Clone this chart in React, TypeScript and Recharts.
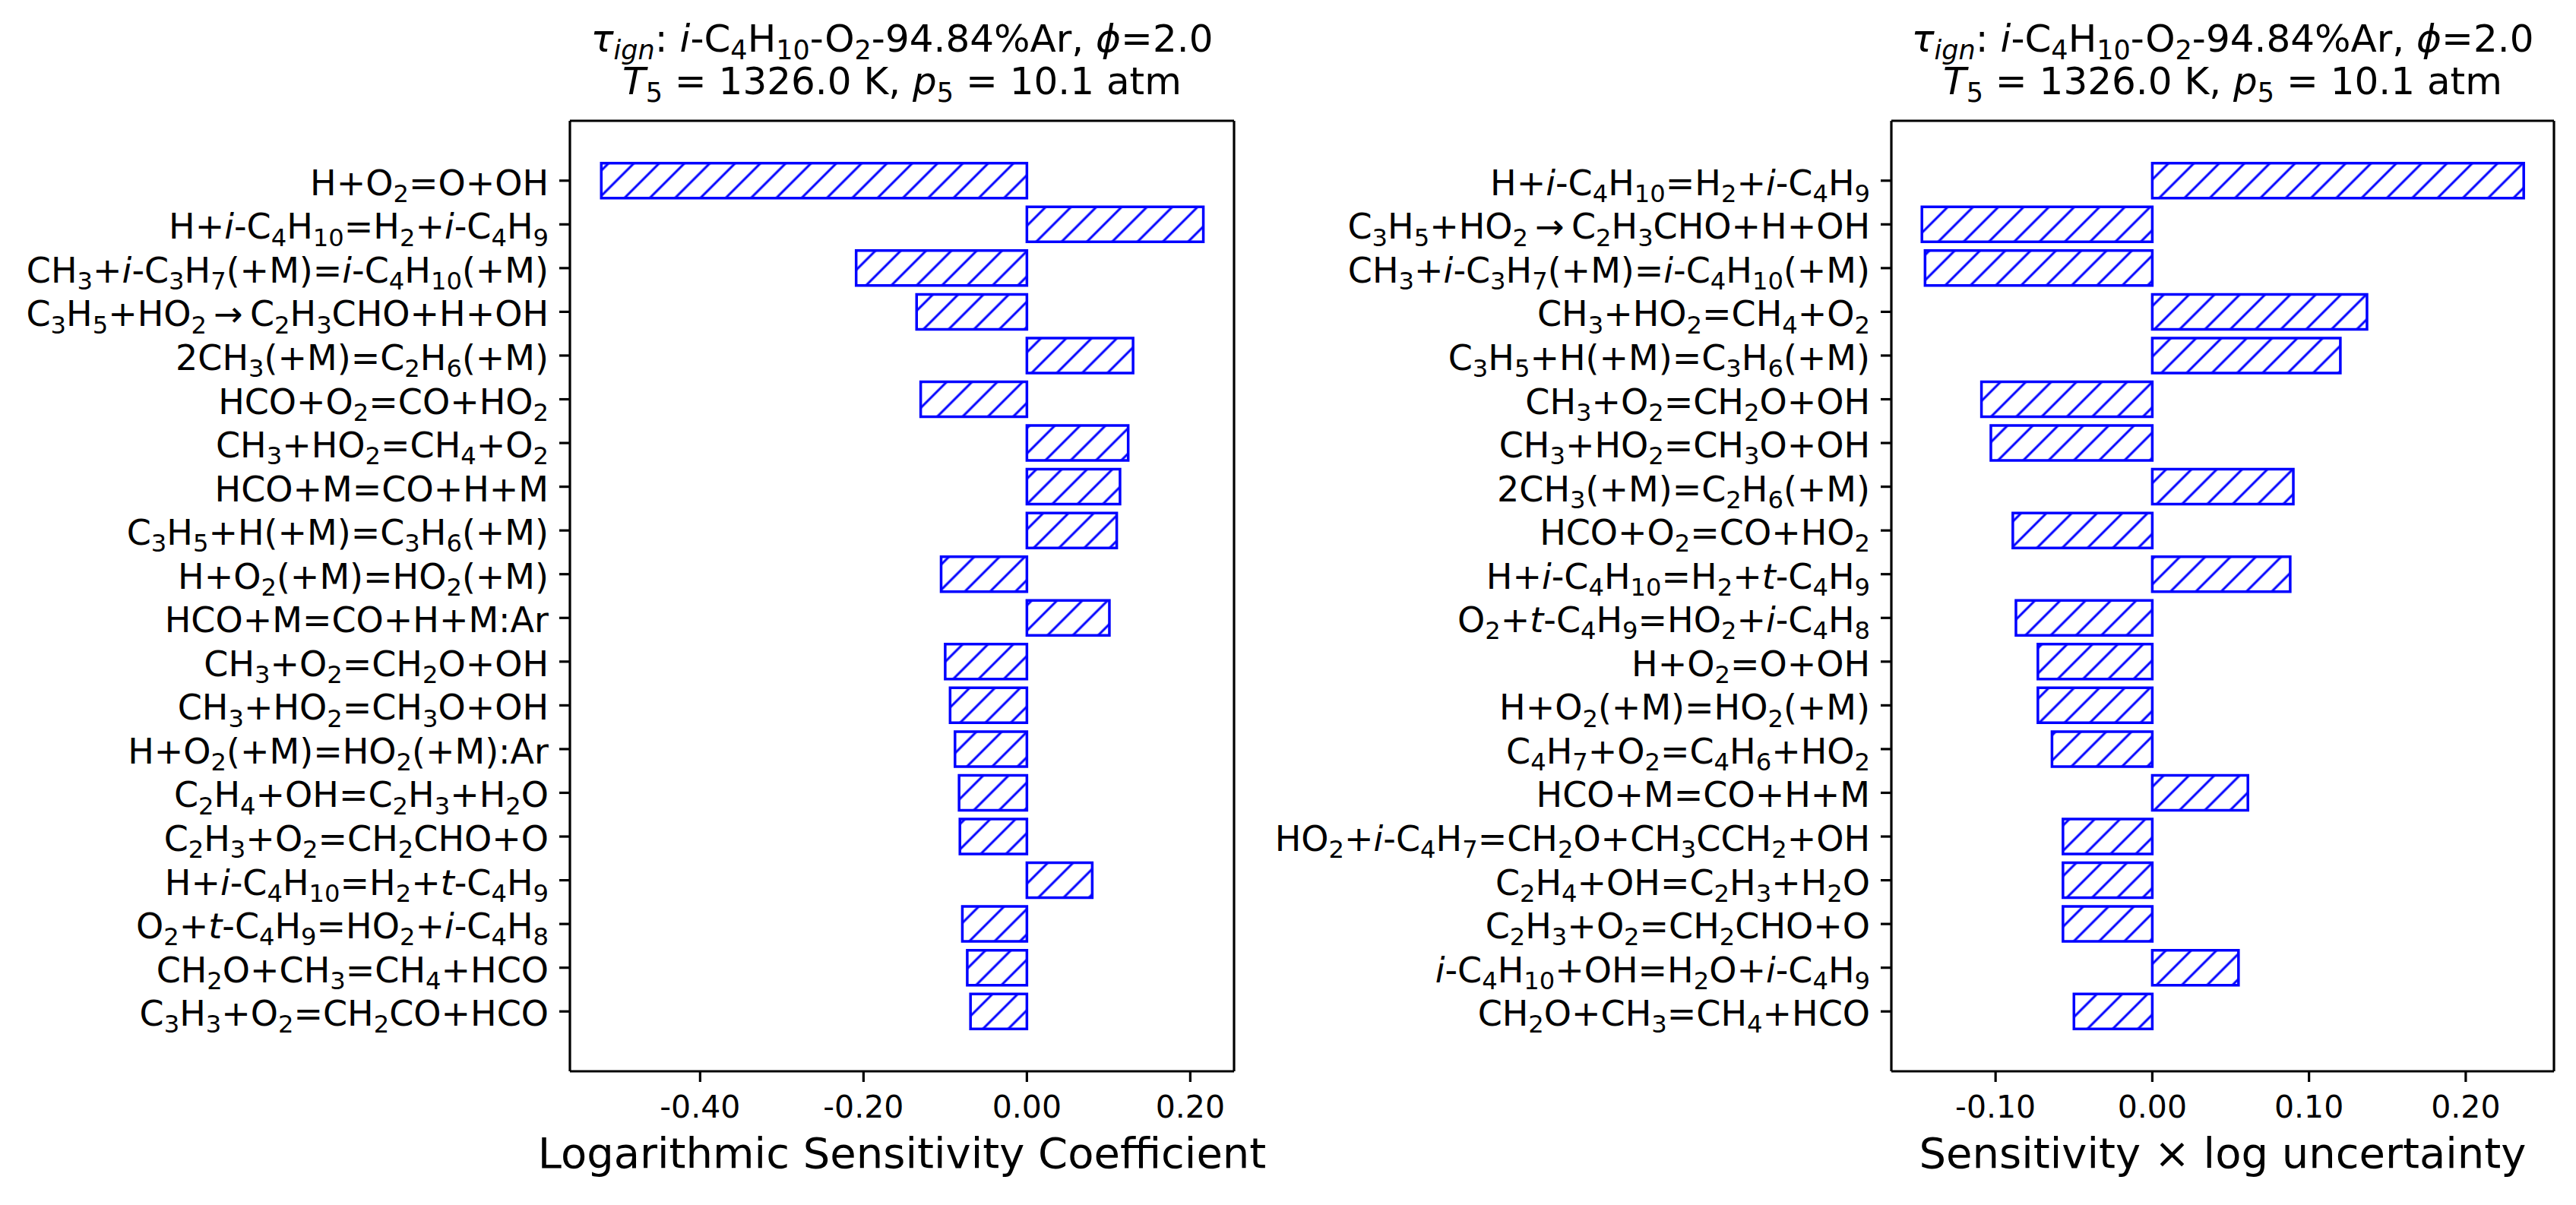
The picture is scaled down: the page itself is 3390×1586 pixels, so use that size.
import React from "react";
import { Bar, BarChart, CartesianGrid, Label, XAxis, YAxis } from "recharts";

const FONT = "DejaVu Sans";
const BLUE = "#0000ff";

// markup: "_4" / "_{10}" subscript, "*...*" italic
const leftLabels = [
  "H+O_2=O+OH",
  "H+*i*-C_4H_{10}=H_2+*i*-C_4H_9",
  "CH_3+*i*-C_3H_7(+M)=*i*-C_4H_{10}(+M)",
  "C_3H_5+HO_2\u2009\u2192\u2009C_2H_3CHO+H+OH",
  "2CH_3(+M)=C_2H_6(+M)",
  "HCO+O_2=CO+HO_2",
  "CH_3+HO_2=CH_4+O_2",
  "HCO+M=CO+H+M",
  "C_3H_5+H(+M)=C_3H_6(+M)",
  "H+O_2(+M)=HO_2(+M)",
  "HCO+M=CO+H+M:Ar",
  "CH_3+O_2=CH_2O+OH",
  "CH_3+HO_2=CH_3O+OH",
  "H+O_2(+M)=HO_2(+M):Ar",
  "C_2H_4+OH=C_2H_3+H_2O",
  "C_2H_3+O_2=CH_2CHO+O",
  "H+*i*-C_4H_{10}=H_2+*t*-C_4H_9",
  "O_2+*t*-C_4H_9=HO_2+*i*-C_4H_8",
  "CH_2O+CH_3=CH_4+HCO",
  "C_3H_3+O_2=CH_2CO+HCO",
];
const leftValues = [
  -0.521, 0.216, -0.209, -0.135, 0.13, -0.13, 0.124, 0.114, 0.11, -0.105,
  0.101, -0.1, -0.094, -0.088, -0.083, -0.082, 0.08, -0.079, -0.073, -0.069,
];
const leftTicks = [-0.4, -0.2, 0, 0.2];

const rightLabels = [
  "H+*i*-C_4H_{10}=H_2+*i*-C_4H_9",
  "C_3H_5+HO_2\u2009\u2192\u2009C_2H_3CHO+H+OH",
  "CH_3+*i*-C_3H_7(+M)=*i*-C_4H_{10}(+M)",
  "CH_3+HO_2=CH_4+O_2",
  "C_3H_5+H(+M)=C_3H_6(+M)",
  "CH_3+O_2=CH_2O+OH",
  "CH_3+HO_2=CH_3O+OH",
  "2CH_3(+M)=C_2H_6(+M)",
  "HCO+O_2=CO+HO_2",
  "H+*i*-C_4H_{10}=H_2+*t*-C_4H_9",
  "O_2+*t*-C_4H_9=HO_2+*i*-C_4H_8",
  "H+O_2=O+OH",
  "H+O_2(+M)=HO_2(+M)",
  "C_4H_7+O_2=C_4H_6+HO_2",
  "HCO+M=CO+H+M",
  "HO_2+*i*-C_4H_7=CH_2O+CH_3CCH_2+OH",
  "C_2H_4+OH=C_2H_3+H_2O",
  "C_2H_3+O_2=CH_2CHO+O",
  "*i*-C_4H_{10}+OH=H_2O+*i*-C_4H_9",
  "CH_2O+CH_3=CH_4+HCO",
];
const rightValues = [
  0.237, -0.147, -0.145, 0.137, 0.12, -0.109, -0.103, 0.09, -0.089, 0.088,
  -0.087, -0.073, -0.073, -0.064, 0.061, -0.057, -0.057, -0.057, 0.055, -0.05,
];
const rightTicks = [-0.1, 0, 0.1, 0.2];

const titleLines = [
  "*\u03c4_{ign}*: *i*-C_4H_{10}-O_2-94.84%Ar, *\u03d5*=2.0",
  "*T*_5 = 1326.0 K, *p*_5 = 10.1 atm",
];

type Piece = { text: string; sub: boolean; it: boolean };

const parseLabel = (s: string): Piece[] => {
  const out: Piece[] = [];
  let it = false;
  let buf = "";
  const flush = () => {
    if (buf) out.push({ text: buf, sub: false, it });
    buf = "";
  };
  for (let i = 0; i < s.length; i++) {
    const c = s[i];
    if (c === "*") {
      flush();
      it = !it;
    } else if (c === "_") {
      flush();
      let j = i + 1;
      let sub = "";
      if (s[j] === "{") {
        j++;
        while (j < s.length && s[j] !== "}") sub += s[j++];
        j++;
      } else {
        while (j < s.length && /[0-9]/.test(s[j])) sub += s[j++];
      }
      out.push({ text: sub, sub: true, it });
      i = j - 1;
    } else {
      buf += c;
    }
  }
  flush();
  return out;
};

// tspans for one line; the first tspan may carry an absolute x/y to start a new line
const richSpans = (text: string, size: number, key: string, start?: { x: number; y: number }) => {
  let shift = 0;
  return parseLabel(text).map((p, k) => {
    const target = p.sub ? size * 0.2 : 0;
    const dy = target - shift;
    shift = target;
    const first = k === 0 && start;
    return (
      <tspan
        key={`${key}-${k}`}
        x={first ? start.x : undefined}
        y={first ? start.y : undefined}
        dy={dy || undefined}
        fontSize={p.sub ? size * 0.7 : size}
        fontStyle={p.it ? "italic" : "normal"}
      >
        {p.text}
      </tspan>
    );
  });
};

const ReactionTick = (props: any) => {
  const { x, y, payload } = props;
  return (
    <text x={x} y={y} dy={19} textAnchor="end" fontFamily={FONT} fontSize={46} fill="#000">
      {richSpans(String(payload.value), 46, "t")}
    </text>
  );
};

type PanelProps = {
  id: string;
  labels: string[];
  values: number[];
  ticks: number[];
  domain: [number, number];
  xLabel: string;
  width: number;
  yAxisWidth: number;
  rightMargin: number;
};

const SensitivityPanel = ({ id, labels, values, ticks, domain, xLabel, width, yAxisWidth, rightMargin }: PanelProps) => {
  const rows = labels.map((name, i) => ({ name, value: values[i] }));
  const hatch = 23.55;

  return (
    <BarChart
      width={width}
      height={1586}
      data={rows}
      layout="vertical"
      margin={{ top: 159, right: rightMargin, bottom: 0, left: 0 }}
      barCategoryGap="10%"
    >
      <defs>
        <pattern id={id} patternUnits="userSpaceOnUse" width={hatch} height={hatch} patternTransform="rotate(45)">
          <rect width={hatch} height={hatch} fill="#fff" />
          <line x1={hatch / 2} y1={0} x2={hatch / 2} y2={hatch} stroke={BLUE} strokeWidth={3} />
        </pattern>
      </defs>
      <CartesianGrid
        stroke="#000"
        strokeWidth={3.2}
        horizontalCoordinatesGenerator={({ offset }: any) => [offset.top, offset.top + offset.height]}
        verticalCoordinatesGenerator={({ offset }: any) => [offset.left, offset.left + offset.width]}
      />
      <XAxis
        type="number"
        domain={domain}
        allowDataOverflow
        ticks={ticks}
        interval={0}
        tickFormatter={(v: number) => v.toFixed(2)}
        height={176}
        tickSize={14}
        tickMargin={18}
        axisLine={false}
        stroke="#000"
        tickLine={{ stroke: "#000", strokeWidth: 3.2 }}
        tick={{ fill: "#000", fontSize: 41, fontFamily: FONT }}
      >
        <Label
          content={({ viewBox }: any) => (
            <text
              x={viewBox.x + viewBox.width / 2}
              y={viewBox.y + 127}
              textAnchor="middle"
              fontFamily={FONT}
              fontSize={56}
              fill="#000"
            >
              {xLabel}
            </text>
          )}
        />
      </XAxis>
      <YAxis
        type="category"
        dataKey="name"
        width={yAxisWidth}
        interval={0}
        tickSize={14}
        tickMargin={14}
        axisLine={false}
        stroke="#000"
        tickLine={{ stroke: "#000", strokeWidth: 3.2 }}
        tick={<ReactionTick />}
        padding={{ top: 50, bottom: 50 }}
      />
      <Bar dataKey="value" fill={`url(#${id})`} stroke={BLUE} strokeWidth={3.5} isAnimationActive={false} />
    </BarChart>
  );
};

const Title = ({ cx }: { cx: number }) => (
  <text textAnchor="middle" fontFamily={FONT} fontSize={50} fill="#000">
    {titleLines.map((line, i) => richSpans(line, 50, `l${i}`, { x: cx, y: 68 + i * 56 }))}
  </text>
);

export default function App() {
  return (
    <div style={{ position: "absolute", left: 0, top: 0, width: 3390, height: 1586, background: "#fff", overflow: "hidden" }}>
      <div style={{ position: "absolute", left: 0, top: 0 }}>
        <SensitivityPanel
          id="hatchLeft"
          labels={leftLabels}
          values={leftValues}
          ticks={leftTicks}
          domain={[-0.5594, 0.2536]}
          xLabel="Logarithmic Sensitivity Coefficient"
          width={1700}
          yAxisWidth={750}
          rightMargin={76}
        />
      </div>
      <div style={{ position: "absolute", left: 1620, top: 0 }}>
        <SensitivityPanel
          id="hatchRight"
          labels={rightLabels}
          values={rightValues}
          ticks={rightTicks}
          domain={[-0.1665, 0.2563]}
          xLabel={"Sensitivity \u00d7 log uncertainty"}
          width={1770}
          yAxisWidth={869}
          rightMargin={29}
        />
      </div>
      <svg width={3390} height={1586} style={{ position: "absolute", left: 0, top: 0, pointerEvents: "none" }}>
        <Title cx={1187} />
        <Title cx={2925} />
      </svg>
    </div>
  );
}
